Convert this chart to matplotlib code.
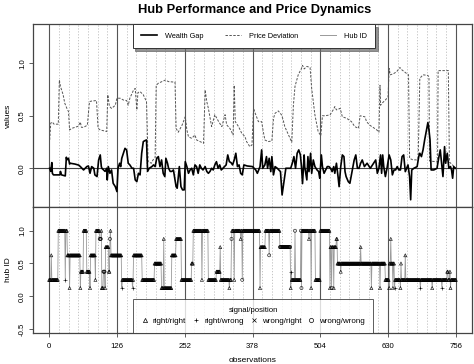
import numpy as np
import matplotlib
matplotlib.use('Agg')
import matplotlib.pyplot as plt
from matplotlib.lines import Line2D

plt.rcParams['font.family'] = ['Liberation Sans', 'DejaVu Sans']

# ---------------- data ----------------
n_obs = 757
x_ticks = [0, 126, 252, 378, 504, 630, 756]

wg_obs = [1, 3, 5, 6, 8, 20, 21, 23, 30, 32, 33, 36, 38, 39, 48, 55, 58, 64, 70, 73, 76, 79, 83, 85, 89,
          92, 95, 97, 98, 104, 107, 108, 110, 113, 116, 119, 123, 126, 128, 131, 133, 135, 138, 141, 144,
          147, 150, 154, 157, 160, 163, 166, 169, 172, 175, 178, 181, 183, 186, 191, 194, 197, 200, 203,
          206, 209, 212, 215, 217, 220, 222, 225, 228, 231, 234, 236, 238, 242, 245, 248, 251, 253, 256,
          259, 262, 265, 268, 271, 274, 277, 280, 283, 286, 290, 293, 296, 299, 302, 305, 308, 311, 314,
          317, 320, 326, 329, 332, 335, 338, 341, 344, 347, 350, 353, 356, 359, 362, 368, 378, 384, 387,
          392, 395, 397, 401, 404, 406, 409, 412, 414, 417, 420, 424, 430, 433, 436, 440, 449, 452, 455,
          458, 461, 464, 467, 469, 471, 474, 475, 479, 481, 483, 486, 488, 491, 494, 498, 501, 503, 506,
          508, 511, 517, 520, 523, 526, 529, 531, 534, 537, 539, 542, 545, 548, 550, 552, 556, 559, 563,
          567, 570, 573, 576, 579, 582, 586, 591, 597, 601, 607, 610, 613, 616, 618, 620, 622, 625, 628,
          632, 635, 638, 641, 644, 647, 650, 653, 656, 659, 662, 667, 670, 672, 674, 678, 684, 687, 689,
          692, 695, 698, 701, 704, 706, 708, 710, 715, 721, 724, 727, 731, 732, 735, 737, 740, 743, 746,
          748, 750, 752, 755]
wg_val = [0.0, -0.03, 0.054, -0.048, -0.063, -0.063, -0.03, -0.063, -0.073, 0.105, 0.08, 0.095, 0.04,
          0.048, 0.04, 0.03, 0.016, -0.016, 0.016, 0.022, -0.048, 0.016, 0.0, -0.063, -0.079,
          0.079, 0.127, 0.016, 0.0, -0.03, 0.0, -0.111, 0.016, -0.048, -0.016, -0.143, -0.175, -0.222,
          0.0, 0.048, 0.016, 0.095, 0.143, 0.19, 0.175,
          0.048, 0.032, 0.0, 0.0, -0.111, -0.127, -0.048, -0.063, 0.143, 0.254, 0.263, 0.27, -0.03, 0.0,
          0.016, 0.032, 0.016, 0.095, 0.111,
          0.016, 0.079, -0.048, -0.079, 0.095, 0.048, 0.0, -0.03, -0.03, -0.016, -0.111, -0.175, -0.19,
          0.016, -0.175, -0.206, -0.206, 0.063, 0.016,
          -0.048, -0.016, 0.0, -0.063, 0.032, 0.016, -0.048, 0.032, 0.0, -0.016, 0.016, -0.03, -0.048,
          -0.03, 0.0, -0.016, 0.032, 0.063, 0.0,
          0.032, -0.016, 0.016, 0.032, 0.127, 0.063, 0.054, 0.032, 0.079, 0.143, 0.016, 0.032, -0.048,
          -0.063, 0.032, 0.022, 0.016, -0.016, -0.048,
          0.016, 0.175, 0.0, 0.032, 0.111, 0.0, 0.095, -0.032, 0.111, -0.063, 0.016, 0.0, -0.032, -0.254,
          -0.143, 0.0, 0.0, 0.048, 0.111,
          0.0, 0.143, 0.175, 0.127, 0.016, -0.146, 0.127, 0.016, -0.111, 0.111, -0.032, 0.143, -0.048,
          0.079, 0.016, -0.016, -0.032, -0.095, 0.127,
          0.016, -0.048, 0.016, 0.016, 0.0, -0.032, 0.016, -0.048, 0.048, -0.079, -0.175, 0.016, 0.127,
          0.111, -0.032, -0.079, -0.127, -0.143, -0.032,
          0.079, 0.127, 0.0, 0.0, 0.048, 0.079, 0.016, 0.048, 0.0, 0.032, 0.079, -0.048, 0.0, 0.127,
          -0.048, 0.127, 0.016, -0.079, 0.0,
          0.127, 0.079, -0.063, -0.016, -0.016, 0.016, -0.016, -0.016, 0.111, 0.127, -0.032, 0.032,
          -0.079, -0.30, -0.016, 0.0, 0.016, 0.111, 0.143,
          0.111, 0.175, 0.27, 0.35, 0.435, 0.365, 0.27, -0.016, -0.016, 0.0, 0.095, 0.175, -0.032,
          -0.079, 0.206, 0.048, 0.143, 0.0, 0.016,
          -0.016, -0.095, 0.016, 0.0]

pd_obs = [1, 3, 6, 9, 17, 19, 21, 26, 29, 33, 36, 38, 42, 48, 54, 58, 60, 64, 71, 75, 79, 88, 91, 95,
          107, 109, 112, 116, 123, 126, 132, 138, 144, 147, 150, 157, 160, 163, 165, 169, 175, 178, 181,
          184, 190, 193, 197, 199, 203, 216, 222, 234, 236, 240, 247, 253, 256, 259, 265, 271, 274, 287,
          290, 293, 296, 302, 308, 315, 321, 327, 330, 336, 342, 344, 346, 352, 358, 364, 367, 373, 377,
          380, 383, 389, 395, 398, 401, 407, 414, 417, 420, 426, 432, 435, 438, 445, 451, 454, 457, 463,
          469, 471, 474, 479, 485, 488, 494, 500, 505, 508, 513, 522, 528, 531, 534, 541, 545, 553, 562,
          568, 575, 578, 587, 590, 596, 602, 609, 613, 615, 616, 619, 625, 630, 632, 634, 640, 646, 652,
          655, 665, 668, 670, 676, 683, 686, 689, 695, 704, 706, 707, 722, 723, 742, 744, 750, 756]
pd_val = [0.27, 0.43, 0.44, 0.42, 0.42, 0.84, 0.78, 0.70, 0.62, 0.57, 0.54, 0.365, 0.38, 0.39, 0.40,
          0.44, 0.39, 0.39, 0.41, 0.635, 0.64, 0.645, 0.38, 0.365,
          0.35, 0.70, 0.59, 0.57, 0.60, 0.667, 0.667, 0.65, 0.645, 0.60, 0.667, 0.746, 0.76, 0.556, 0.72,
          0.73, 0.70, 0.667, 0.635,
          0.063, 0.048, 0.079, 0.10, 0.79, 0.81, 0.84, 0.825, 0.82, 0.38, 0.343, 0.41, 0.49, 0.365, 0.30,
          0.285, 0.317, 0.27, 0.238,
          0.746, 0.635, 0.57, 0.397, 0.51, 0.445, 0.397, 0.51, 0.413, 0.38, 0.317, 0.79, 0.444, 0.397,
          0.333, 0.302, 0.254, 0.206, 0.222,
          0.57, 0.524, 0.444, 0.444, 0.35, 0.27, 0.254, 0.26, 0.476, 0.524, 0.546, 0.508, 0.46, 0.397,
          0.317, 0.248, 0.60, 0.78, 0.89,
          0.95, 0.98, 0.946, 0.97, 0.96, 0.76, 0.508, 0.35, 0.31, 0.50, 0.50, 0.508, 0.556, 0.587, 0.556,
          0.57, 0.49, 0.476, 0.444,
          0.397, 0.38, 0.50, 0.49, 0.444, 0.41, 0.39, 0.365, 0.343, 0.79, 0.60, 0.62, 0.65, 0.68, 0.95,
          0.89, 0.90, 0.92, 0.96,
          0.94, 0.90, 0.89, 0.095, 0.08, 0.08, 0.095, 0.857, 0.89, 0.884, 0.87, 0.07, 0.06, 0.93, 0.93,
          0.06, 0.03, 0.0]

hub_start = [0, 4, 5, 17, 30, 31, 34, 38, 39, 58, 59, 64, 70, 76, 77, 86, 87, 94, 97, 98, 101, 104, 105,
             111, 113, 114, 115, 135, 136, 155, 156, 157, 173, 196, 209, 213, 214, 228, 236, 246, 265,
             268, 284, 285, 296, 311, 318, 319, 335, 336, 339, 340, 344, 345, 356, 357, 359, 360, 379,
             380, 392, 393, 402, 409, 410, 429, 449, 450, 451, 457, 458, 468, 469, 470, 483, 484, 487,
             488, 495, 504, 522, 523, 525, 526, 529, 530, 534, 536, 542, 543, 579, 580, 599, 600, 615,
             616, 625, 632, 633, 635, 636, 639, 640, 642, 643, 653, 654, 655, 662, 663, 690, 691, 712,
             713, 730, 731, 740, 742, 745, 746, 747]
hub_level = [0.25, 0.625, 0.25, 1.0, 0.25, 1.0, 0.625, 0.125, 0.625, 0.125, 0.375, 1.0, 0.375, 0.125,
             0.625, 0.25, 1.0, 0.875, 1.0, 0.125, 0.375, 0.125, 0.75,
             0.375, 0.875, 1.0, 0.625, 0.125, 0.25, 0.125, 0.25, 0.625, 0.25, 0.5, 0.125, 0.875, 0.125,
             0.625, 0.875, 0.25, 0.5,
             1.0, 0.25, 1.0, 0.25, 0.375, 0.75, 0.25, 0.125, 0.25, 0.875, 1.0, 0.25, 1.0, 0.875, 1.0,
             0.25, 1.0, 1.0,
             1.0, 0.125, 0.75, 1.0, 0.625, 1.0, 0.75, 0.125, 0.375, 0.25, 1.0, 0.25, 1.0, 0.125, 1.0,
             0.875, 1.0, 0.125,
             1.0, 0.25, 1.0, 0.125, 0.75, 0.125, 0.75, 0.125, 0.75, 0.875, 0.5, 0.375, 0.5, 0.75, 0.5,
             0.125, 0.5, 0.125,
             0.5, 0.25, 0.125, 0.5, 0.875, 0.5, 0.125, 0.5, 0.125, 0.25, 0.125, 0.5, 0.25, 0.625, 0.25,
             0.125, 0.25, 0.125,
             0.25, 0.125, 0.25, 0.375, 0.25, 0.375, 0.125, 0.25]
hub_signal = ['rr', 'rr', 'rr', 'rr', 'rw', 'rr', 'rr', 'rr', 'rr', 'rr', 'rr', 'rr', 'rr', 'rr',
              'rr', 'rr', 'rr', 'ww', 'rr', 'rr', 'ww', 'rr', 'rr',
              'rr', 'ww', 'rr', 'rr', 'rw', 'rr', 'rw', 'rr', 'rr', 'rr', 'rr', 'rr', 'rr', 'rr',
              'rr', 'rr', 'rr', 'rr',
              'rr', 'rr', 'rr', 'rr', 'rr', 'rr', 'rr', 'rr', 'rr', 'ww', 'rr', 'rr', 'rr', 'rr', 'rr',
              'ww', 'rr', 'rw',
              'rr', 'rr', 'rr', 'rr', 'ww', 'rr', 'ww', 'rr', 'rw', 'rr', 'ww', 'rr', 'ww', 'ww', 'rr',
              'rr', 'rr', 'rr',
              'rr', 'rr', 'rr', 'rr', 'rr', 'ww', 'rr', 'rr', 'rr', 'rr', 'rr', 'rr', 'rr', 'rr', 'rr',
              'rr', 'rr', 'rr',
              'rr', 'rr', 'rr', 'rr', 'rr', 'rr', 'rr', 'rr', 'rw', 'rr', 'rr', 'rr', 'rr', 'rr', 'rr',
              'rw', 'rr', 'rr',
              'rr', 'rw', 'rr', 'rr', 'rr', 'rr', 'rr', 'rr']

signal_labels = {'rr': 'right/right', 'rw': 'right/wrong', 'wr': 'wrong/right', 'ww': 'wrong/wrong'}
signal_markers = {'rr': '^', 'rw': '+', 'wr': 'x', 'ww': 'o'}

# ---------------- build per-observation series ----------------
lengths = np.diff(hub_start + [n_obs])
hub = np.repeat(hub_level, lengths)
sig = np.repeat(hub_signal, lengths)
obs = np.arange(n_obs)

# ---------------- figure ----------------
fig = plt.figure(figsize=(4.74, 3.64), dpi=100)
L, R = 33 / 474, 472 / 474
ax1 = fig.add_axes([L, 1 - 206.7 / 364, R - L, (206.7 - 24.3) / 364])
ax2 = fig.add_axes([L, 1 - 333.3 / 364, R - L, (333.3 - 206.7) / 364])

xlim = (-30, 786)
grid_x = [g for g in range(18, 756, 18) if g % 126 != 0]
frame_c = '#444444'
for ax in (ax1, ax2):
    ax.set_xlim(*xlim)
    for g in grid_x:
        ax.axvline(g, color='#bcbcbc', lw=0.6, ls=(0, (1.5, 2.0)), zorder=0)
    for t in x_ticks:
        ax.axvline(t, color='#555555', lw=0.8, zorder=1)
    for s in ax.spines.values():
        s.set_color(frame_c)
        s.set_linewidth(0.9)
    ax.tick_params(axis='both', labelsize=5.6, length=3, width=0.6, color=frame_c, pad=2)

# top panel
ax1.axhline(0, color='#444444', lw=0.8, zorder=1)
ax1.plot(pd_obs, pd_val, color='#555555', lw=0.7, ls=(0, (2.5, 1.5)), zorder=2)
ax1.plot(wg_obs, wg_val, color='black', lw=1.2, zorder=3)
ax1.set_ylim(-0.366, 1.371)
ax1.set_yticks([0.0, 0.5, 1.0])
ax1.set_yticklabels(['0.0', '0.5', '1.0'], rotation=90, va='center')
ax1.set_xticks([])
ax1.set_ylabel('values', fontsize=6, labelpad=5)

handles = [Line2D([], [], color='black', lw=1.2),
           Line2D([], [], color='#555555', lw=0.7, ls=(0, (2.5, 1.5))),
           Line2D([], [], color='#999999', lw=0.7)]
leg1 = ax1.legend(handles, ['Wealth Gap', 'Price Deviation', 'Hub ID'], ncol=3, fontsize=5.3,
                  loc='upper left', bbox_to_anchor=(0.227, 0.0, 0.552, 1.0), mode='expand',
                  frameon=True, fancybox=False, shadow={'color': '#666666', 'alpha': 0.7},
                  edgecolor='#333333', handlelength=2.2, columnspacing=1.0,
                  handletextpad=1.0, borderpad=1.15, borderaxespad=0)
leg1.get_frame().set_linewidth(0.7)

# bottom panel
ax2.plot(obs, hub, color='#9a9a9a', lw=0.6, zorder=2)
for code in ['rr', 'rw', 'wr', 'ww']:
    m = sig == code
    if not m.any():
        continue
    if signal_markers[code] in ('+', 'x'):
        ax2.scatter(obs[m], hub[m], marker=signal_markers[code], s=5, c='black', linewidths=0.4, zorder=3)
    else:
        ax2.scatter(obs[m], hub[m], marker=signal_markers[code], s=5, facecolors='none',
                    edgecolors='black', linewidths=0.4, zorder=3)
ax2.set_ylim(-0.566, 1.367)
ax2.set_yticks([-0.5, 0.0, 0.5, 1.0])
ax2.set_yticklabels(['-0.5', '0.0', '0.5', '1.0'], rotation=90, va='center')
ax2.set_xticks(x_ticks)
ax2.set_xticklabels([str(t) for t in x_ticks])
ax2.tick_params(axis='x', pad=4)
ax2.set_ylabel('hub ID', fontsize=6, labelpad=5)
ax2.set_xlabel('observations', fontsize=6, labelpad=5)

sh = []
for code in ['rr', 'rw', 'wr', 'ww']:
    mk = signal_markers[code]
    if mk in ('+', 'x'):
        sh.append(Line2D([], [], ls='none', marker=mk, color='black', markersize=3, markeredgewidth=0.5))
    else:
        sh.append(Line2D([], [], ls='none', marker=mk, markerfacecolor='none', markeredgecolor='black',
                         markersize=3, markeredgewidth=0.5))
leg2 = ax2.legend(sh, [signal_labels[c] for c in ['rr', 'rw', 'wr', 'ww']], ncol=4, fontsize=5.8,
                  title='signal/position', title_fontsize=5.6, loc='lower left',
                  bbox_to_anchor=(0.2285, 0.0, 0.5466, 1.0), mode='expand', frameon=True,
                  fancybox=False, edgecolor='#333333', handlelength=0.8, columnspacing=1.4,
                  handletextpad=0.6, borderpad=1.0, labelspacing=0.5, borderaxespad=0)
leg2.get_frame().set_linewidth(0.7)
leg2.set_zorder(5)

fig.text(0.538, 1 - 10.5 / 364, 'Hub Performance and Price Dynamics', ha='center', va='center',
         fontsize=9.3, fontweight='bold')

fig.savefig('out.png', dpi=100)
